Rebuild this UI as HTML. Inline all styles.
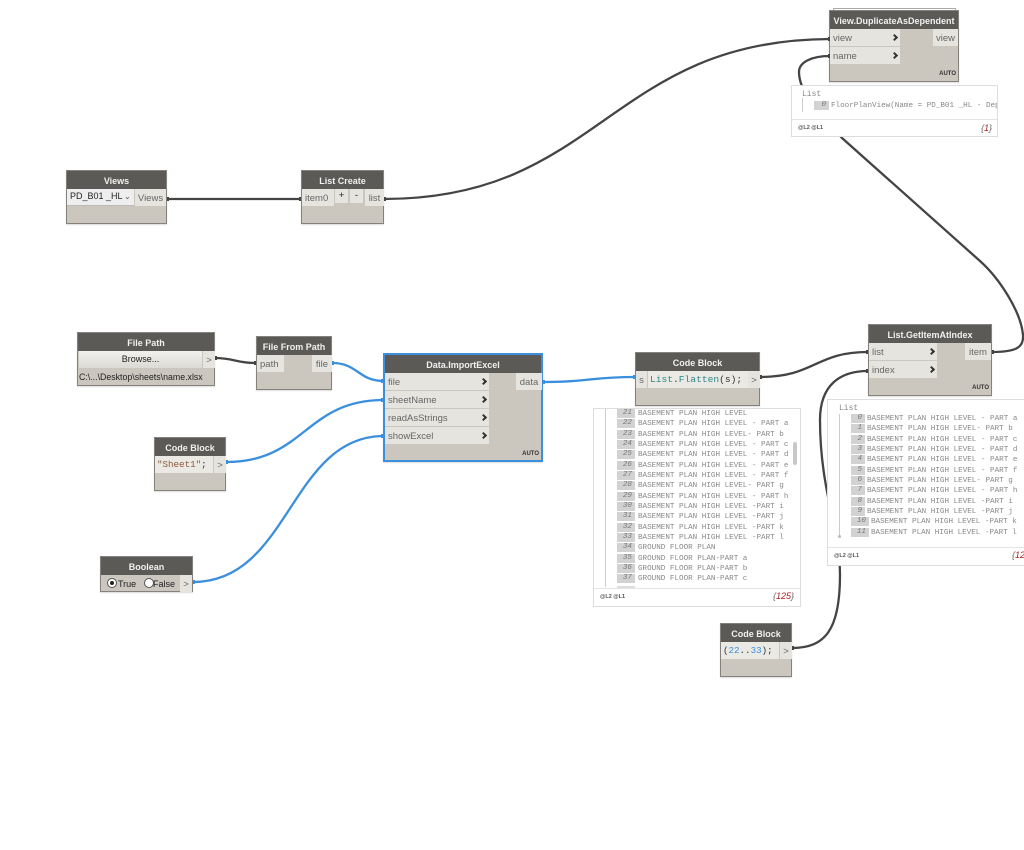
<!DOCTYPE html>
<html><head><meta charset="utf-8"><style>
html,body{margin:0;padding:0;background:#fff}
#c{position:relative;width:1024px;height:850px;overflow:hidden;background:#fff;font-family:"Liberation Sans",sans-serif}
#c div{position:absolute;box-sizing:border-box}
svg{position:absolute;left:0;top:0}
.n{background:#cbc6be;border:1px solid #85827d;box-shadow:0 1px 1px #ddd}
.h{left:0;top:0;right:0;height:18px;background:#5c5a57;color:#f0f0f0;font-weight:bold;font-size:9px;line-height:20px;text-align:center;white-space:nowrap}
.p{background:#e6e4df;color:#666;font-size:9.5px;line-height:19px;height:17px;padding-left:3px;white-space:nowrap}
.r{padding:0;text-align:center}
.c{width:5px;height:5px;border-top:2px solid #333;border-right:2px solid #333;transform:rotate(45deg);top:6px;margin-left:1.5px}
.a{font-size:6px;font-weight:bold;color:#333;line-height:8px}
.w{background:#fff;border:1px solid #ddd;overflow:hidden;font-family:"Liberation Mono",monospace;font-size:7.6px;color:#888}
.s{left:0;right:0;height:1px;background:#e4e4e4}
.b{height:9px;margin-top:-1px;background:#d2d2d2;color:#777;font-style:italic;text-align:right;padding-right:3px;line-height:9px}
.t{white-space:nowrap;line-height:10px}
.f{font-family:"Liberation Sans",sans-serif;font-size:5.5px;font-weight:bold;color:#555;line-height:8px}
.q{font-family:"Liberation Sans",sans-serif;font-size:9px;font-style:italic;color:#666;line-height:10px}
.q b{color:#a22;font-weight:normal}
.k{height:17px;background:#ebe9e4;font-family:"Liberation Mono",monospace;font-size:9.2px;line-height:17px;padding-left:2px;white-space:nowrap;color:#333}
</style></head><body><div id="c">
<svg width="1024" height="850" fill="none">
<g stroke="#444" stroke-width="2.3">
<path d="M167 199L301 199"/>
<path d="M384 199C600 199 610 40 830 39"/>
<path d="M214 358C235 358 235 363 256 363"/>
<path d="M760 377C815 377 815 352 868 352"/>
<path d="M792 648C825 648 840 630 840 575C840 530 820 490 820 420C820 385 840 371 868 371"/>
<path d="M992 352C1015 352 1024 348 1023 335C1021 312 1000 279 980 261L842 138C825 120 799 95 799 72C799 62 812 56 830 56"/>
</g>
<g stroke="#3b8fdc" stroke-width="2.3">
<path d="M332 363C358 363 358 381 384 381"/>
<path d="M226 462C305 462 305 400 384 400"/>
<path d="M193 582C290 582 290 436 384 436"/>
<path d="M542 382C590 382 590 377 635 377"/>
</g>
</svg>

<!-- View.DuplicateAsDependent -->
<div style="left:833px;top:8px;width:123px;height:3px;background:#fff;border:1px solid #aaa;border-bottom:0"></div>
<div class="n" style="left:829px;top:10px;width:130px;height:72px">
<div class="h">View.DuplicateAsDependent</div>
<div class="p" style="left:0;top:18px;width:70px">view<div class="c" style="left:60px"></div></div>
<div class="p" style="left:0;top:36px;width:70px">name<div class="c" style="left:60px"></div></div>
<div class="p r" style="left:103px;top:18px;width:25px">view</div>
<div class="a" style="right:2px;top:59px">AUTO</div>
</div>
<!-- top watch -->
<div class="w" style="left:791px;top:85px;width:207px;height:52px">
<div class="t" style="left:10px;top:4px;font-size:8px">List</div>
<div style="left:10px;top:12px;width:1px;height:14px;background:#ccc"></div>
<div class="b" style="left:22px;top:16px;width:15px">0</div>
<div class="t" style="left:39px;top:15px">FloorPlanView(Name = PD_B01 _HL - Dependent</div>
<div class="s" style="top:33px"></div>
<div class="f" style="left:6px;top:38px">@L2 @L1</div>
<div class="q" style="right:5px;top:37px">{<b>1</b>}</div>
</div>

<!-- Views -->
<div class="n" style="left:66px;top:170px;width:101px;height:54px">
<div class="h">Views</div>
<div style="left:0;top:18px;width:67px;height:17px;background:#eee;border-bottom:1px solid #bbb;color:#222;font-size:9px;line-height:15px;padding-left:3px;white-space:nowrap">PD_B01 _HL</div>
<div style="left:57px;top:18px;font-size:8px;line-height:15px;color:#555">&#8964;</div>
<div class="p r" style="left:68px;top:18px;width:31px">Views</div>
</div>
<!-- List Create -->
<div class="n" style="left:301px;top:170px;width:83px;height:54px">
<div class="h">List Create</div>
<div class="p" style="left:0;top:18px;width:32px">item0</div>
<div class="p r" style="left:33px;top:18px;width:13px;height:14px;line-height:14px;color:#222">+</div>
<div class="p r" style="left:48px;top:18px;width:13px;height:14px;line-height:14px;color:#222">-</div>
<div class="p r" style="left:63px;top:18px;width:19px">list</div>
</div>
<!-- File Path -->
<div class="n" style="left:77px;top:332px;width:138px;height:54px">
<div class="h">File Path</div>
<div style="left:1px;top:18px;width:123px;height:17px;background:linear-gradient(#f2f1ee,#dcdad5);color:#222;font-size:9px;line-height:16px;text-align:center">Browse...</div>
<div class="p r" style="left:125px;top:18px;width:12px">&gt;</div>
<div style="left:1px;top:38px;font-size:8.8px;line-height:12px;color:#222;white-space:nowrap">C:\...\Desktop\sheets\name.xlsx</div>
</div>
<!-- File From Path -->
<div class="n" style="left:256px;top:336px;width:76px;height:54px">
<div class="h">File From Path</div>
<div class="p" style="left:0;top:18px;width:27px">path</div>
<div class="p r" style="left:55px;top:18px;width:20px">file</div>
</div>
<!-- Data.ImportExcel -->
<div class="n" style="left:383px;top:353px;width:160px;height:109px;border:2px solid #3b8fdc">
<div class="h">Data.ImportExcel</div>
<div class="p" style="left:0;top:18px;width:104px">file<div class="c" style="left:94px"></div></div>
<div class="p" style="left:0;top:36px;width:104px">sheetName<div class="c" style="left:94px"></div></div>
<div class="p" style="left:0;top:54px;width:104px">readAsStrings<div class="c" style="left:94px"></div></div>
<div class="p" style="left:0;top:72px;width:104px">showExcel<div class="c" style="left:94px"></div></div>
<div class="p r" style="left:131px;top:18px;width:26px">data</div>
<div class="a" style="right:2px;top:95px">AUTO</div>
</div>
<!-- Code Block flatten -->
<div class="n" style="left:635px;top:352px;width:125px;height:54px">
<div class="h">Code Block</div>
<div class="p r" style="left:0;top:18px;width:11px">s</div>
<div class="k" style="left:12px;top:18px;width:100px;font-size:9.6px"><span style="color:#2a8a8a">List</span>.<span style="color:#2a8a8a">Flatten</span>(s);</div>
<div class="p r" style="left:112px;top:18px;width:12px">&gt;</div>
</div>
<!-- watch 125 -->
<div class="w" style="left:593px;top:408px;width:208px;height:199px">
<div style="left:11px;top:0;width:1px;height:178px;background:#ccc"></div>
<div class="b" style="left:23px;top:1px;width:18px">21</div><div class="t" style="left:44px;top:0px">BASEMENT PLAN HIGH LEVEL</div>
<div class="b" style="left:23px;top:11px;width:18px">22</div><div class="t" style="left:44px;top:10px">BASEMENT PLAN HIGH LEVEL - PART a</div>
<div class="b" style="left:23px;top:22px;width:18px">23</div><div class="t" style="left:44px;top:21px">BASEMENT PLAN HIGH LEVEL- PART b</div>
<div class="b" style="left:23px;top:32px;width:18px">24</div><div class="t" style="left:44px;top:31px">BASEMENT PLAN HIGH LEVEL - PART c</div>
<div class="b" style="left:23px;top:42px;width:18px">25</div><div class="t" style="left:44px;top:41px">BASEMENT PLAN HIGH LEVEL - PART d</div>
<div class="b" style="left:23px;top:53px;width:18px">26</div><div class="t" style="left:44px;top:52px">BASEMENT PLAN HIGH LEVEL - PART e</div>
<div class="b" style="left:23px;top:63px;width:18px">27</div><div class="t" style="left:44px;top:62px">BASEMENT PLAN HIGH LEVEL - PART f</div>
<div class="b" style="left:23px;top:73px;width:18px">28</div><div class="t" style="left:44px;top:72px">BASEMENT PLAN HIGH LEVEL- PART g</div>
<div class="b" style="left:23px;top:84px;width:18px">29</div><div class="t" style="left:44px;top:83px">BASEMENT PLAN HIGH LEVEL - PART h</div>
<div class="b" style="left:23px;top:94px;width:18px">30</div><div class="t" style="left:44px;top:93px">BASEMENT PLAN HIGH LEVEL -PART i</div>
<div class="b" style="left:23px;top:104px;width:18px">31</div><div class="t" style="left:44px;top:103px">BASEMENT PLAN HIGH LEVEL -PART j</div>
<div class="b" style="left:23px;top:115px;width:18px">32</div><div class="t" style="left:44px;top:114px">BASEMENT PLAN HIGH LEVEL -PART k</div>
<div class="b" style="left:23px;top:125px;width:18px">33</div><div class="t" style="left:44px;top:124px">BASEMENT PLAN HIGH LEVEL -PART l</div>
<div class="b" style="left:23px;top:135px;width:18px">34</div><div class="t" style="left:44px;top:134px">GROUND FLOOR PLAN</div>
<div class="b" style="left:23px;top:146px;width:18px">35</div><div class="t" style="left:44px;top:145px">GROUND FLOOR PLAN-PART a</div>
<div class="b" style="left:23px;top:156px;width:18px">36</div><div class="t" style="left:44px;top:155px">GROUND FLOOR PLAN-PART b</div>
<div class="b" style="left:23px;top:166px;width:18px">37</div><div class="t" style="left:44px;top:165px">GROUND FLOOR PLAN-PART c</div>
<div style="left:23px;top:177px;width:18px;height:2px;background:#ddd"></div>
<div style="left:199px;top:33px;width:4px;height:23px;background:#c8c8c8;border-radius:2px"></div>
<div class="s" style="top:179px"></div>
<div class="f" style="left:6px;top:184px">@L2 @L1</div>
<div class="q" style="right:6px;top:182px">{<b>125</b>}</div>
</div>
<!-- List.GetItemAtIndex -->
<div class="n" style="left:868px;top:324px;width:124px;height:72px">
<div class="h">List.GetItemAtIndex</div>
<div class="p" style="left:0;top:18px;width:68px">list<div class="c" style="left:58px"></div></div>
<div class="p" style="left:0;top:36px;width:68px">index<div class="c" style="left:58px"></div></div>
<div class="p r" style="left:96px;top:18px;width:26px">item</div>
<div class="a" style="right:2px;top:59px">AUTO</div>
</div>
<!-- watch 12 -->
<div class="w" style="left:827px;top:399px;width:210px;height:167px">
<div class="t" style="left:11px;top:4px;font-size:8px">List</div>
<div style="left:11px;top:14px;width:1px;height:122px;background:#ccc"></div>
<div style="left:10px;top:135px;width:3px;height:3px;border-radius:2px;background:#bbb"></div>
<div class="b" style="left:23px;top:15px;width:14px">0</div><div class="t" style="left:39px;top:14px">BASEMENT PLAN HIGH LEVEL - PART a</div>
<div class="b" style="left:23px;top:25px;width:14px">1</div><div class="t" style="left:39px;top:24px">BASEMENT PLAN HIGH LEVEL- PART b</div>
<div class="b" style="left:23px;top:36px;width:14px">2</div><div class="t" style="left:39px;top:35px">BASEMENT PLAN HIGH LEVEL - PART c</div>
<div class="b" style="left:23px;top:46px;width:14px">3</div><div class="t" style="left:39px;top:45px">BASEMENT PLAN HIGH LEVEL - PART d</div>
<div class="b" style="left:23px;top:56px;width:14px">4</div><div class="t" style="left:39px;top:55px">BASEMENT PLAN HIGH LEVEL - PART e</div>
<div class="b" style="left:23px;top:67px;width:14px">5</div><div class="t" style="left:39px;top:66px">BASEMENT PLAN HIGH LEVEL - PART f</div>
<div class="b" style="left:23px;top:77px;width:14px">6</div><div class="t" style="left:39px;top:76px">BASEMENT PLAN HIGH LEVEL- PART g</div>
<div class="b" style="left:23px;top:87px;width:14px">7</div><div class="t" style="left:39px;top:86px">BASEMENT PLAN HIGH LEVEL - PART h</div>
<div class="b" style="left:23px;top:98px;width:14px">8</div><div class="t" style="left:39px;top:97px">BASEMENT PLAN HIGH LEVEL -PART i</div>
<div class="b" style="left:23px;top:108px;width:14px">9</div><div class="t" style="left:39px;top:107px">BASEMENT PLAN HIGH LEVEL -PART j</div>
<div class="b" style="left:23px;top:118px;width:18px">10</div><div class="t" style="left:43px;top:117px">BASEMENT PLAN HIGH LEVEL -PART k</div>
<div class="b" style="left:23px;top:129px;width:18px">11</div><div class="t" style="left:43px;top:128px">BASEMENT PLAN HIGH LEVEL -PART l</div>
<div class="s" style="top:147px"></div>
<div class="f" style="left:6px;top:152px">@L2 @L1</div>
<div class="q" style="left:184px;top:150px">{<b>12</b>}</div>
</div>
<!-- Code Block Sheet1 -->
<div class="n" style="left:154px;top:437px;width:72px;height:54px">
<div class="h">Code Block</div>
<div class="k" style="left:0;top:18px;width:58px"><span style="color:#8a5a3c">"Sheet1"</span>;</div>
<div class="p r" style="left:59px;top:18px;width:12px">&gt;</div>
</div>
<!-- Boolean -->
<div class="n" style="left:100px;top:556px;width:93px;height:36px">
<div class="h">Boolean</div>
<div style="left:6px;top:21px;width:10px;height:10px;border:1px solid #555;border-radius:50%;background:#fff"></div>
<div style="left:9px;top:24px;width:4px;height:4px;border-radius:50%;background:#222"></div>
<div style="left:17px;top:18px;font-size:9px;line-height:18px;color:#222">True</div>
<div style="left:43px;top:21px;width:10px;height:10px;border:1px solid #555;border-radius:50%;background:#fff"></div>
<div style="left:52px;top:18px;font-size:9px;line-height:18px;color:#222">False</div>
<div class="p r" style="left:79px;top:18px;width:12px">&gt;</div>
</div>
<!-- Code Block range -->
<div class="n" style="left:720px;top:623px;width:72px;height:54px">
<div class="h">Code Block</div>
<div class="k" style="left:0;top:18px;width:58px">(<span style="color:#3b8fdc">22</span>..<span style="color:#3b8fdc">33</span>);</div>
<div class="p r" style="left:59px;top:18px;width:12px">&gt;</div>
</div>
<svg width="1024" height="850">
<g fill="#444">
<rect x="167" y="197" width="2" height="4"/><rect x="299" y="197" width="2" height="4"/>
<rect x="384" y="197" width="2" height="4"/><rect x="828" y="37" width="2" height="4"/>
<rect x="828" y="54" width="2" height="4"/><rect x="215" y="356" width="2" height="4"/>
<rect x="254" y="361" width="2" height="4"/><rect x="760" y="375" width="2" height="4"/>
<rect x="866" y="350" width="2" height="4"/><rect x="866" y="369" width="2" height="4"/>
<rect x="992" y="350" width="2" height="4"/><rect x="792" y="646" width="2" height="4"/>
</g>
<g fill="#3b8fdc">
<rect x="332" y="361" width="2" height="4"/><rect x="381" y="379" width="2" height="4"/>
<rect x="226" y="460" width="2" height="4"/><rect x="381" y="398" width="2" height="4"/>
<rect x="193" y="580" width="2" height="4"/><rect x="381" y="434" width="2" height="4"/>
<rect x="543" y="380" width="2" height="4"/><rect x="633" y="375" width="2" height="4"/>
</g>
</svg>
</div></body></html>
